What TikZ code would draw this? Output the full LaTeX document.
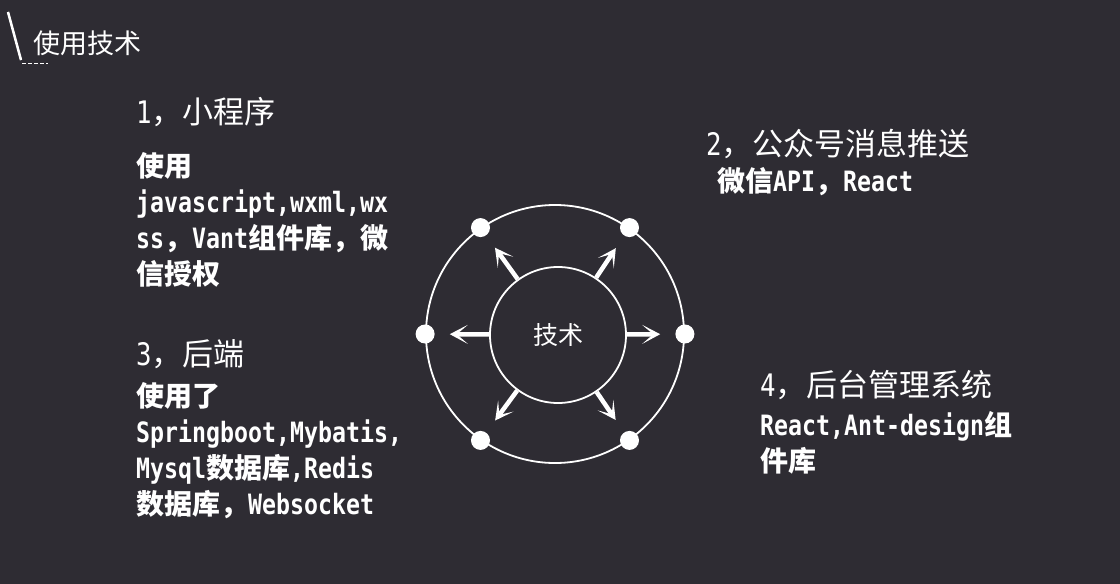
\documentclass[tikz,border=0pt]{standalone}
\usepackage{fontspec}
\setmainfont{DejaVu Sans Mono}[FakeStretch=0.83]
\newfontfamily\cjk{Noto Sans CJK SC}
\usetikzlibrary{arrows.meta}
\definecolor{bgdark}{RGB}{46,44,51}
\newcommand{\zh}[1]{{\cjk #1}}
\begin{document}
\begin{tikzpicture}[x=1pt,y=-1pt,
	head/.style={anchor=base west,inner sep=0,text=white,font=\fontsize{31}{36}\selectfont},
	body/.style={anchor=base west,inner sep=0,text=white,align=left,font=\bfseries\fontsize{28}{36}\selectfont},
	dot/.style={circle,fill=white,minimum size=19pt,inner sep=0},
	arw/.style={white,line width=4.5pt,-{Stealth[length=18pt,width=19pt,inset=11pt]},shorten >=15pt}]
	\fill[bgdark] (0,0) rectangle (1120,584);
	\draw[white,line width=0.5pt,double distance=1.5pt] (8,12) -- (21,60);
	\draw[white,line width=0.8pt,dash pattern=on 4pt off 2pt] (22,63) -- (48,63);
	\node[anchor=base west,inner sep=0,text=white,font=\cjk\fontsize{27}{32}\selectfont] (title) at (33,53) {使用技术};
	% text blocks, placed at the baseline of their last line
	\node[head] (h1) at (136,123) {1\zh{，小程序}};
	\node[body] (b1) at (136,284) {\zh{使用}\\javascript,wxml,wx\\ss\zh{，}Vant\zh{组件库，微}\\\zh{信授权}};
	\node[head] (h2) at (706,155) {2\zh{，公众号消息推送}};
	\node[body] (b2) at (717,191) {\zh{微信}API\zh{，}React};
	\node[head] (h3) at (136,365) {3\zh{，后端}};
	\node[body] (b3) at (136,514) {\zh{使用了}\\Springboot,Mybatis,\\Mysql\zh{数据库},Redis\\\zh{数据库，}Websocket};
	\node[head] (h4) at (760,396) {4\zh{，后台管理系统}};
	\node[body] (b4) at (760,471) {React,Ant-design\zh{组}\\\zh{件库}};
	% ring and centre
	\node[circle,draw=white,line width=1.8pt,minimum size=258pt,inner sep=0] (ring) at (555,334) {};
	\node[circle,draw=white,line width=1.8pt,minimum size=136pt,inner sep=0,text=white,font=\cjk\fontsize{25}{30}\selectfont] (tech) at (558,335) {技术};
	\foreach \a/\n in {180/w,125/nw,55/ne,0/e,305/se,235/sw} {
		\node[dot] (d\n) at (ring.\a) {};
		\draw[arw] (tech) -- (d\n);
	}
\end{tikzpicture}
\end{document}
